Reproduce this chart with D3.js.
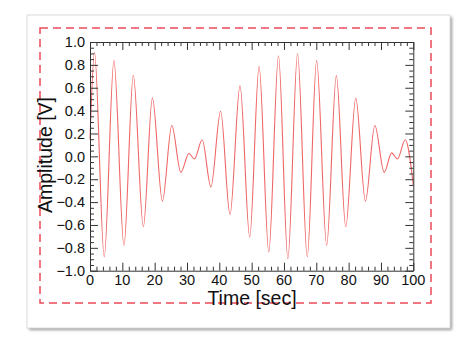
<!DOCTYPE html>
<html>
<head>
<meta charset="utf-8">
<script src="https://cdn.jsdelivr.net/npm/d3@7"></script>
<style>
  html, body { margin: 0; padding: 0; background: #ffffff; }
  svg { display: block; }
</style>
</head>
<body>
<svg id="chart" width="474" height="354"></svg>
<script>
// Extrema of the signal (time in sec, amplitude in V)
const times = [0, 1.4, 4.4, 7.4, 10.5, 13.4, 16.5, 19.3, 22.4, 25.3, 28.1, 30.6, 32.3, 34.7, 37.4,
  40.4, 43.3, 46.4, 49.4, 52.3, 55.3, 58.3, 61.2, 64.2, 67.2, 70.1, 73.2, 76.2, 79.1, 82.2,
  85.2, 88.1, 91.0, 93.3, 95.1, 97.5, 100];
const amplitudes = [0.15, 0.907, -0.878, 0.837, -0.779, 0.709, -0.616, 0.509, -0.392, 0.27, -0.14, 0.025, -0.023, 0.145, -0.267,
  0.395, -0.509, 0.616, -0.706, 0.785, -0.837, 0.88, -0.895, 0.90, -0.878, 0.837, -0.779, 0.706, -0.616, 0.509,
  -0.392, 0.27, -0.14, 0.03, -0.023, 0.145, -0.25];
const xTicks = [0, 10, 20, 30, 40, 50, 60, 70, 80, 90, 100];
const yTicks = [-1.0, -0.8, -0.6, -0.4, -0.2, 0.0, 0.2, 0.4, 0.6, 0.8, 1.0];
const xTitle = "Time [sec]";
const yTitle = "Amplitude [V]";

const svg = d3.select("#chart");
const font = "'Liberation Sans', Arial, sans-serif";

// Panel with shadow
const defs = svg.append("defs");
const f = defs.append("filter").attr("id", "sh").attr("x", "-5%").attr("y", "-5%").attr("width", "115%").attr("height", "115%");
f.append("feGaussianBlur").attr("stdDeviation", 1.5);
svg.append("rect").attr("x", 29).attr("y", 17).attr("width", 423).attr("height", 313)
  .attr("fill", "#9a9a9a").attr("filter", "url(#sh)");
svg.append("rect").attr("x", 27).attr("y", 15).attr("width", 423).attr("height", 313)
  .attr("fill", "#ffffff").attr("stroke", "#dcdcdc").attr("stroke-width", 1);

// Dashed red rectangle
svg.append("rect").attr("x", 40).attr("y", 28).attr("width", 391).attr("height", 275)
  .attr("fill", "none").attr("stroke", "#ec4a5a").attr("stroke-width", 1.5)
  .attr("stroke-dasharray", "8,5");

const L = 90, R = 413.3, T = 42, B = 270.7;
const x = d3.scaleLinear().domain([0, 100]).range([L, R]);
const y = d3.scaleLinear().domain([-1, 1]).range([B, T]);

// Signal
const data = times.map((t, i) => [t, amplitudes[i]]);
const line = d3.line().x(d => x(d[0])).y(d => y(d[1])).curve(d3.curveMonotoneX);
svg.append("path").datum(data).attr("d", line)
  .attr("fill", "none").attr("stroke", "#f06666").attr("stroke-width", 1.1);

// Axes (ticks inside, mirrored)
const axisColor = "#333333";
const xMinor = d3.range(0, 101, 2).filter(v => v % 10 !== 0);
const yMinor = d3.range(-20, 21, 1).map(v => v / 20).filter(v => Math.abs(Math.round(v * 100) % 20) !== 0);

function drawAxis(axisGen, tx, ty, tickVals, size, withLabels, fmt) {
  const g = svg.append("g").attr("transform", `translate(${tx},${ty})`)
    .call(axisGen.tickValues(tickVals).tickSize(size).tickSizeOuter(0)
      .tickFormat(withLabels ? fmt : () => ""));
  g.select(".domain").attr("stroke", axisColor);
  g.selectAll(".tick line").attr("stroke", axisColor);
  g.selectAll("text").attr("fill", "#111").style("font-family", font).style("font-size", "14.5px");
  return g;
}
const fx = d => d3.format("d")(d);
const fy = d => d3.format(".1f")(d);

// bottom
const gb = drawAxis(d3.axisTop(x), 0, B, xTicks, 8, false);
drawAxis(d3.axisTop(x), 0, B, xMinor, 4, false).select(".domain").remove();
// top
drawAxis(d3.axisBottom(x), 0, T, xTicks, 8, false);
drawAxis(d3.axisBottom(x), 0, T, xMinor, 4, false).select(".domain").remove();
// left
drawAxis(d3.axisRight(y), L, 0, yTicks, 8, false);
drawAxis(d3.axisRight(y), L, 0, yMinor, 4, false).select(".domain").remove();
// right
drawAxis(d3.axisLeft(y), R, 0, yTicks, 8, false);
drawAxis(d3.axisLeft(y), R, 0, yMinor, 4, false).select(".domain").remove();

// Tick labels
svg.append("g").selectAll("text").data(xTicks).join("text")
  .attr("x", d => x(d)).attr("y", 284.5).attr("text-anchor", "middle")
  .style("font-family", font).style("font-size", "14.5px").attr("fill", "#111")
  .text(fx);
svg.append("g").selectAll("text").data(yTicks).join("text")
  .attr("x", 85).attr("y", d => y(d)).attr("dy", "0.36em").attr("text-anchor", "end")
  .style("font-family", font).style("font-size", "14.5px").attr("fill", "#111")
  .text(fy);

// Axis titles
svg.append("text").attr("x", 252).attr("y", 305).attr("text-anchor", "middle")
  .style("font-family", font).style("font-size", "19.5px").attr("fill", "#111").text(xTitle);
svg.append("text").attr("transform", "translate(52,155) rotate(-90)").attr("text-anchor", "middle")
  .style("font-family", font).style("font-size", "19.5px").attr("fill", "#111").text(yTitle);
</script>
</body>
</html>
